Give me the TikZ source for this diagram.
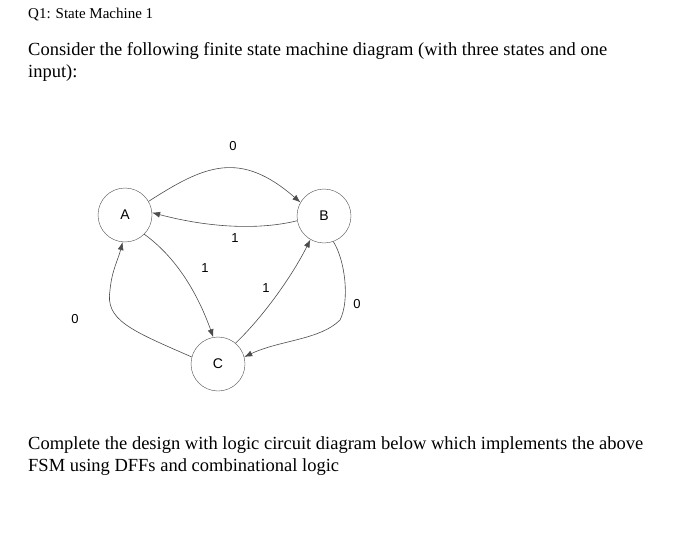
\documentclass[tikz,border=0pt]{standalone}
\usepackage{fontspec}
\setmainfont{Liberation Serif}
\newfontfamily\lsans{Liberation Sans}
\usetikzlibrary{arrows.meta}
\begin{document}
\begin{tikzpicture}[x=1pt,y=-1pt,
  st/.style={draw=black!70,circle,minimum size=54pt,inner sep=0pt,font=\lsans\fontsize{14}{14}\selectfont},
  lb/.style={font=\lsans\fontsize{13}{13}\selectfont},
  tx/.style={anchor=base west,inner sep=0pt,font=\fontsize{18.5}{22}\selectfont},
  ed/.style={draw=black!70,-{Latex[length=8pt,width=6pt]},line width=0.6pt}]
\useasboundingbox (0,0) rectangle (700,545);
\node[tx,font=\fontsize{15}{15}\selectfont] (t1) at (28,19) {Q1: State Machine 1};
\node[tx] (t2) at (28,56) {Consider the following finite state machine diagram (with three states and one};
\node[tx] (t2b) at (28,78) {input):};
\node[tx] (t3) at (28,449) {Complete the design with logic circuit diagram below which implements the above};
\node[tx] (t3b) at (28,471) {FSM using DFFs and combinational logic};
\node[st] (A) at (125,215) {A};
\node[st] (B) at (324,216) {B};
\node[st] (C) at (218,364) {C};
\draw[ed] (A.30) .. controls (205,165) and (240,150) .. (B.150);
\draw[ed] (B.190) .. controls (260,230) and (210,228) .. (A.5);
\draw[ed] (A.315) .. controls (180,260) and (200,300) .. (C.100);
\draw[ed] (C.50) .. controls (260,320) and (290,280) .. (B.240);
\draw[ed] (B.290) .. controls (345,260) and (350,300) .. (340,320) .. controls (320,340) and (280,340) .. (C.15);
\draw[ed] (C.165) .. controls (130,330) and (105,320) .. (110,290) .. controls (112,270) and (118,260) .. (A.265);
\node[lb] (l1) at (233,146) {0};
\node[lb] (l2) at (235,238) {1};
\node[lb] (l3) at (205,268) {1};
\node[lb] (l4) at (266,288) {1};
\node[lb] (l5) at (357,304) {0};
\node[lb] (l6) at (75,319) {0};
\end{tikzpicture}
\end{document}
